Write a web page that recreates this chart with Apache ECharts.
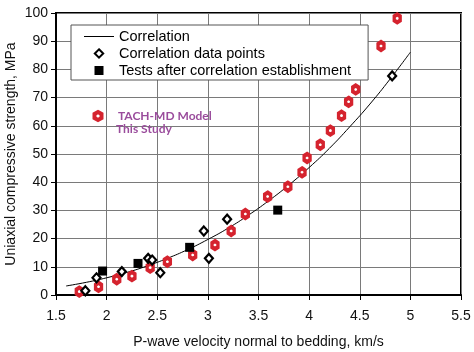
<!DOCTYPE html>
<html><head><meta charset="utf-8">
<script src="https://cdn.jsdelivr.net/npm/echarts@6/dist/echarts.min.js"></script>
<style>html,body{margin:0;padding:0;background:#fff}#c{width:474px;height:352px}</style>
</head><body><div id="c"></div>
<script>
// Correlation curve
const corrX = [1.6,1.8,2.0,2.2,2.4,2.6,2.8,3.0,3.2,3.4,3.6,3.8,4.0,4.2,4.4,4.6,4.8,5.0];
const corrY = [3.2,4.5,6.1,8.0,10.3,13.0,16.1,19.7,23.7,28.3,33.4,39.0,45.2,52.0,59.6,67.7,76.6,86.1];
// Correlation data points (open diamonds)
const cdpX = [1.79,1.90,2.15,2.41,2.45,2.53,2.96,3.01,3.19,4.82];
const cdpY = [1.5,6.1,8.3,13.0,12.4,7.9,22.7,13.0,26.9,77.7];
// Tests after correlation establishment (filled squares)
const testX = [1.96,2.31,2.82,3.69];
const testY = [8.5,11.2,16.9,30.1];
// TACH-MD Model, This Study (red hexagons)
const tachX = [1.73,1.92,2.10,2.25,2.43,2.60,2.85,3.07,3.23,3.37,3.59,3.79,3.93,3.98,4.11,4.21,4.32,4.39,4.46,4.71,4.87];
const tachY = [1.2,2.9,5.6,6.7,9.7,11.8,14.2,17.7,22.7,28.7,34.9,38.4,43.5,48.6,53.3,58.3,63.6,68.5,72.9,88.3,98.1];
const xTicks = {min:1.5, max:5.5, step:0.5};
const yTicks = {min:0, max:100, step:10};

const zip = (xs, ys) => xs.map((x, i) => [x, ys[i]]);
const font = 'Liberation Sans, Arial, sans-serif';
const purpleFont = 'Lato, Open Sans, sans-serif';
const hex = 'path://M0,-10 L8.66,-5 L8.66,5 L0,10 L-8.66,5 L-8.66,-5 Z';
const red = '#d5232e';
const purple = '#9a4c9c';

const chart = echarts.init(document.getElementById('c'), null, {renderer:'canvas'});
chart.setOption({
  animation:false,
  backgroundColor:'#fff',
  textStyle:{fontFamily:font},
  grid:{left:56, right:13, top:13, bottom:57, show:true, borderColor:'#000', borderWidth:2,
    backgroundColor:'transparent', containLabel:false, outerBoundsMode:'none'},
  xAxis:{type:'value', min:xTicks.min, max:xTicks.max, interval:xTicks.step,
    name:'P-wave velocity normal to bedding, km/s', nameLocation:'middle', nameGap:40,
    nameTextStyle:{fontSize:14, color:'#111', fontFamily:font},
    axisLine:{lineStyle:{color:'#000', width:2}},
    axisTick:{show:true, length:5, lineStyle:{color:'#000'}},
    axisLabel:{fontSize:14, color:'#111', margin:14, fontFamily:font},
    splitLine:{lineStyle:{color:'#7a7a7a', width:1}}},
  yAxis:{type:'value', min:yTicks.min, max:yTicks.max, interval:yTicks.step,
    name:'Uniaxial compressive strength, MPa', nameLocation:'middle', nameGap:38, nameMoveOverlap:false,
    nameTextStyle:{fontSize:14, color:'#111', fontFamily:font},
    axisLine:{lineStyle:{color:'#000', width:2}},
    axisTick:{show:true, length:5, lineStyle:{color:'#000'}},
    axisLabel:{fontSize:14, color:'#111', margin:8, fontFamily:font},
    splitLine:{lineStyle:{color:'#7a7a7a', width:1}}},
  legend:[{
    left:71, top:25, orient:'vertical', itemWidth:30, itemHeight:10, itemGap:2,
    backgroundColor:'#fff', borderColor:'#555', borderWidth:1, padding:[4,17,2,12],
    textStyle:{fontSize:14.5, color:'#000', fontFamily:font, lineHeight:13},
    data:[{name:'Correlation', icon:'path://M0,0 M30,10 M0,4.5 L30,4.5 L30,5.5 L0,5.5 Z', itemStyle:{color:'#000', borderWidth:0}},
          {name:'Correlation data points', icon:'path://M0,0 M30,10 M15,0.8 L19.2,5 L15,9.2 L10.8,5 Z'},
          {name:'Tests after correlation establishment', icon:'path://M0,0 M30,10 M10.5,0.5 L19.5,0.5 L19.5,9.5 L10.5,9.5 Z'}]
  },{
    left:81, top:108, orient:'vertical', itemWidth:30, itemHeight:12, padding:0,
    textStyle:{fontSize:12, color:purple, fontWeight:'bold', fontFamily:purpleFont},
    data:[{name:'TACH-MD Model', icon:'path://M0,0 M30,12 M15,2 L18.5,4 L18.5,8 L15,10 L11.5,8 L11.5,4 Z',
      itemStyle:{color:'#fff', borderColor:red, borderWidth:4}}]
  }],
  title:{text:'This Study', left:116, top:123, padding:0,
    textStyle:{fontSize:12, color:purple, fontWeight:'bold', fontFamily:purpleFont}},
  series:[
    {name:'Correlation', type:'line', data:zip(corrX, corrY), smooth:true, symbol:'none',
      lineStyle:{color:'#000', width:1}, itemStyle:{color:'#000'}, z:3},
    {name:'TACH-MD Model', type:'scatter', data:zip(tachX, tachY), symbol:hex, symbolSize:[6,8],
      itemStyle:{color:'#fff', borderColor:red, borderWidth:3.8, opacity:1}, z:4},
    {name:'Correlation data points', type:'scatter', data:zip(cdpX, cdpY), symbol:'diamond', symbolSize:[8,9],
      itemStyle:{color:'#fff', borderColor:'#000', borderWidth:2.2, opacity:1}, z:5},
    {name:'Tests after correlation establishment', type:'scatter', data:zip(testX, testY), symbol:'rect', symbolSize:9,
      itemStyle:{color:'#000', opacity:1}, z:5}
  ]
});
</script></body></html>
